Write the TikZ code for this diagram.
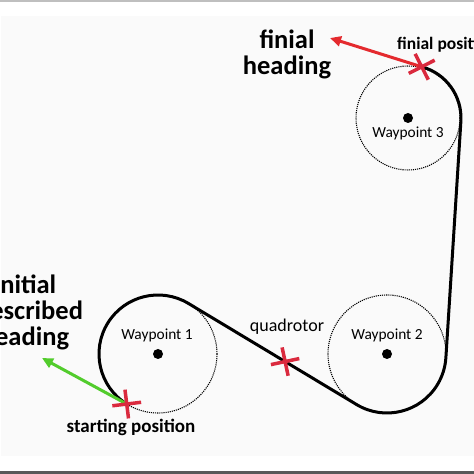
\documentclass[tikz,border=0pt]{standalone}
\usepackage{fontspec}
\setmainfont{Carlito}
\usepackage{xcolor}
\usepackage{tikz}
\usetikzlibrary{arrows.meta, positioning, calc, shapes.misc}
\definecolor{crossred}{HTML}{DA2A3E}
\definecolor{headred}{HTML}{E42A2E}
\definecolor{headgreen}{HTML}{52CC2C}
\tikzstyle{arrow} = [line width=3pt,-{Triangle[length=11pt,width=10pt]}]

\begin{document}
\begin{tikzpicture}[
    x=1pt, y=1pt,
    dot/.style={circle, fill=black, inner sep=0pt, minimum size=10pt},
    zone/.style={densely dotted, line width=1.1pt, draw=black},
    track/.style={line width=3pt, line join=round},
    xmark/.style={cross out, draw=crossred, line width=3.5pt, minimum size=17pt, inner sep=0pt},
    wplabel/.style={font=\fontsize{15.4}{17}\selectfont},
    biglabel/.style={font=\fontsize{26.5}{26}\selectfont\bfseries, align=center},
    smalllabel/.style={font=\fontsize{19}{21}\selectfont\bfseries}
]
    % frame
    \useasboundingbox (0,0) rectangle (474,474);
    \fill[white] (0,0) rectangle (474,474);
    \fill[black!2] (1,18) rectangle (474,458);
    \fill[black!25] (0,472) rectangle (474,474);
    \fill[black!65] (0,0) rectangle (474,3);

    % waypoints
    \node[dot] (wp1) at (158,120) {};
    \node[dot] (wp2) at (387,120) {};
    \node[dot] (wp3) at (408,356) {};
    \draw[zone] (wp1) circle[radius=59pt];
    \draw[zone] (wp2) circle[radius=59pt];
    \draw[zone] (wp3) circle[radius=52pt];
    \node[wplabel] (lab1) at (157,139) {Waypoint 1};
    \node[wplabel] (lab2) at (387,139) {Waypoint 2};
    \node[wplabel] (lab3) at (408,341) {Waypoint 3};

    % trajectory
    \coordinate (p0) at ($(wp1)+(238:59pt)$);
    \coordinate (t1) at ($(wp1)+(59:59pt)$);
    \coordinate (t2) at ($(wp2)+(239:59pt)$);
    \coordinate (t3) at ($(wp3)+(-3.65:53pt)$);
    \coordinate (p1) at ($(wp3)+(75:53pt)$);
    \draw[track] (p0) arc[start angle=238, end angle=59, radius=59pt]
        -- (t2) arc[start angle=239, end angle=356.35, radius=59pt]
        -- (t3) arc[start angle=-3.65, end angle=75, radius=53pt];

    % headings
    \coordinate (tipA) at (42,116);
    \coordinate (tipB) at (330,436);
    \draw[arrow, headgreen] (p0) -- (tipA);
    \draw[arrow, headred] (p1) -- (tipB);

    % markers
    \node[xmark, rotate=-38] (start) at (p0) {};
    \node[xmark, rotate=-33] (quad) at ($(t1)!0.575!(t2)$) {};
    \node[xmark, rotate=-18] (goal) at (p1) {};

    % texts
    \node[smalllabel] (startlab) at (131,47) {starting position};
    \node[font=\fontsize{18}{20}\selectfont] (quadlab) at (287,147) {quadrotor};
    \node[font=\fontsize{17.5}{20}\selectfont\bfseries, anchor=west, inner sep=0pt] (goallab) at (397,429) {finial position};
    \node[biglabel] (headB) at (287,420) {finial\\heading};
    \node[biglabel] (headA) at (25,162) {initial\\prescribed\\heading};
\end{tikzpicture}
\end{document}
